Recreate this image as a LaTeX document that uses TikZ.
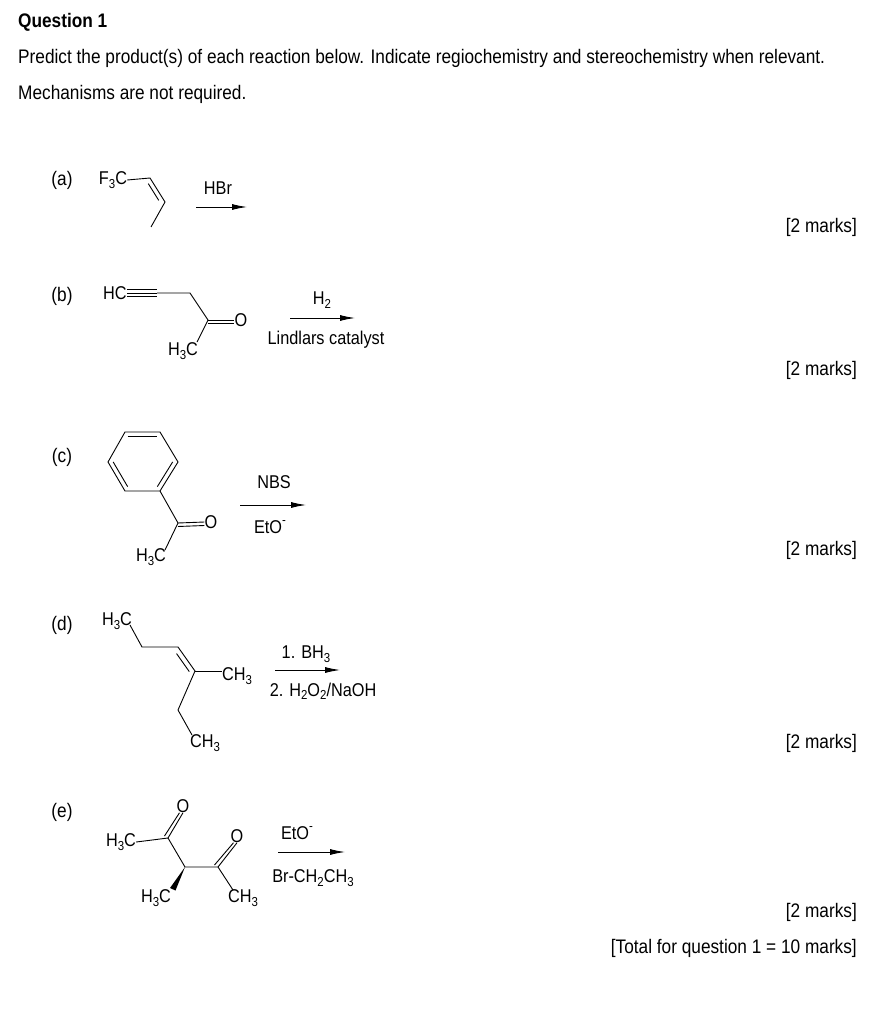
\documentclass[tikz,border=0pt]{standalone}
\usepackage{fontspec}
\setmainfont{Liberation Sans}[FakeStretch=0.88]
\usetikzlibrary{arrows.meta,calc}
\newcommand{\chsub}[1]{\raisebox{-0.35ex}{\fontsize{13}{14}\selectfont #1}}
\newcommand{\spm}{\raisebox{0.9ex}{\fontsize{13}{14}\selectfont -}}
\begin{document}
\begin{tikzpicture}[x=1pt,y=-1pt,
  txt/.style={inner sep=0pt,font=\fontsize{19.6}{21}\selectfont},
  lab/.style={inner sep=0pt,font=\fontsize{18.5}{20}\selectfont},
  bd/.style={line width=0.9pt},
  rx/.style={line width=0.9pt,-{Latex[length=15pt,width=6pt]}}]
\useasboundingbox[fill=white] (0,0) rectangle (894,1024);
\node[txt,anchor=west,font=\bfseries\fontsize{19.6}{21}\selectfont] (title) at (18,22) {Question 1};
\node[txt,anchor=west] (l1) at (18,58) {Predict the product(s) of each reaction below. Indicate regiochemistry and stereochemistry when relevant.};
\node[txt,anchor=west] (l2) at (18,94) {Mechanisms are not required.};
% (a)
\node[txt] (la) at (62,180) {(a)};
\node[lab] (f3c) at (113,180) {F\chsub{3}C};
\coordinate (a1) at (150,178); \coordinate (a2) at (165,202); \coordinate (a3) at (151,227);
\draw[bd] (f3c.east) -- (a1) -- (a2) -- (a3);
\draw[bd] ($(a1)!0.15!(a2)+(-4,2)$) -- ($(a1)!0.85!(a2)+(-4,2)$);
\node[lab] (ha) at (218,188) {HBr};
\coordinate (ra1) at (196,207); \coordinate (ra2) at (247,207);
\draw[rx] (ra1) -- (ra2);
\node[txt,anchor=east] (ma) at (857,227) {[2 marks]};
% (b)
\node[txt] (lb) at (62,296) {(b)};
\node[lab] (hc) at (115,293) {HC};
\coordinate (b1) at (157,293); \coordinate (b2) at (190,293); \coordinate (b3) at (208,320);
\coordinate (b5) at (197,342);
\node[lab] (ob) at (241,320) {O};
\node[lab] (h3cb) at (183,351) {H\chsub{3}C};
\draw[bd] (hc.east) -- (b1); \draw[bd] ([yshift=-3.5]hc.east) -- ([yshift=-3.5]b1);
\draw[bd] ([yshift=3.5]hc.east) -- ([yshift=3.5]b1);
\draw[bd] (b1) -- (b2) -- (b3) -- (b5);
\draw[bd] (b3) -- (ob.west); \draw[bd] ([yshift=-3.5]b3) -- ([yshift=-3.5]ob.west);
\node[lab] (h2) at (322,300) {H\chsub{2}};
\coordinate (rb1) at (290,318); \coordinate (rb2) at (355,318);
\draw[rx] (rb1) -- (rb2);
\node[lab] (lind) at (326,340) {Lindlars catalyst};
\node[txt,anchor=east] (mb) at (857,370) {[2 marks]};
% (c)
\node[txt] (lc) at (62,457) {(c)};
\coordinate (r1) at (125,432); \coordinate (r2) at (160,432); \coordinate (r3) at (178,462);
\coordinate (r4) at (160,491); \coordinate (r5) at (125,491); \coordinate (r6) at (108,462);
\coordinate (rc) at (142.5,461.5);
\draw[bd] (r1)--(r2)--(r3)--(r4)--(r5)--(r6)--cycle;
\draw[bd] ($(r1)!0.15!(rc)$) -- ($(r2)!0.15!(rc)$);
\draw[bd] ($(r3)!0.15!(rc)$) -- ($(r4)!0.15!(rc)$);
\draw[bd] ($(r5)!0.15!(rc)$) -- ($(r6)!0.15!(rc)$);
\coordinate (c1) at (178,523); \coordinate (c2) at (165,550);
\node[lab] (oc) at (211,522) {O};
\node[lab] (h3cc) at (151,557) {H\chsub{3}C};
\draw[bd] (r4) -- (c1) -- (c2);
\draw[bd] (c1) -- (oc.west); \draw[bd] ([yshift=-3.5]c1) -- ([yshift=-3.5]oc.west);
\node[lab] (nbs) at (274,482) {NBS};
\coordinate (rc1) at (240,505); \coordinate (rc2) at (306,505);
\draw[rx] (rc1) -- (rc2);
\node[lab] (etoc) at (270,527) {EtO\spm};
\node[txt,anchor=east] (mc) at (857,550) {[2 marks]};
% (d)
\node[txt] (ld) at (62,625) {(d)};
\node[lab] (h3cd) at (117,621) {H\chsub{3}C};
\coordinate (d1) at (142,647); \coordinate (d2) at (178,647); \coordinate (d3) at (195,671);
\coordinate (d4) at (178,710); \coordinate (d5) at (192,735);
\node[lab,anchor=west] (ch3d) at (222,676) {CH\chsub{3}};
\node[lab] (ch3e) at (205,743) {CH\chsub{3}};
\draw[bd] (130,625) -- (d1) -- (d2) -- (d3) -- (d4) -- (d5);
\draw[bd] (d3) -- (ch3d.west|-d3);
\draw[bd] ($(d2)!0.15!(d3)+(-4,3)$) -- ($(d2)!0.9!(d3)+(-4,3)$);
\node[lab] (bh3) at (306,654) {1. BH\chsub{3}};
\coordinate (rd1) at (275,670); \coordinate (rd2) at (340,670);
\draw[rx] (rd1) -- (rd2);
\node[lab] (h2o2) at (323,691) {2. H\chsub{2}O\chsub{2}/NaOH};
\node[txt,anchor=east] (md) at (857,743) {[2 marks]};
% (e)
\node[txt] (le) at (62,812) {(e)};
\node[lab] (h3ce) at (121,842) {H\chsub{3}C};
\coordinate (e1) at (168,838); \coordinate (e2) at (185,867); \coordinate (e3) at (218,867);
\coordinate (e4) at (233,890); \coordinate (e5) at (173,889);
\node[lab] (oe1) at (183,806) {O};
\node[lab] (oe2) at (237,836) {O};
\node[lab] (ch3f) at (243,898) {CH\chsub{3}};
\node[lab] (h3cf) at (156,898) {H\chsub{3}C};
\draw[bd] (h3ce.east) -- (e1) -- (e2) -- (e3) -- (e4);
\draw[bd] (e1) -- (oe1.south); \draw[bd] ($(e1)+(-3.5,-2)$) -- ($(oe1.south)+(-3.5,0)$);
\draw[bd] (e3) -- (oe2.south); \draw[bd] ($(e3)+(-3.5,-2)$) -- ($(oe2.south)+(-3.5,0)$);
\fill (e2) -- ($(e5)+(-3,-1)$) -- ($(e5)+(2.5,1.5)$) -- cycle;
\node[lab] (etoe) at (297,833) {EtO\spm};
\coordinate (re1) at (278,852); \coordinate (re2) at (345,852);
\draw[rx] (re1) -- (re2);
\node[lab] (brc) at (313,878) {Br-CH\chsub{2}CH\chsub{3}};
\node[txt,anchor=east] (me) at (857,912) {[2 marks]};
\node[txt,anchor=east] (tot) at (857,948) {[Total for question 1 = 10 marks]};
\end{tikzpicture}
\end{document}
